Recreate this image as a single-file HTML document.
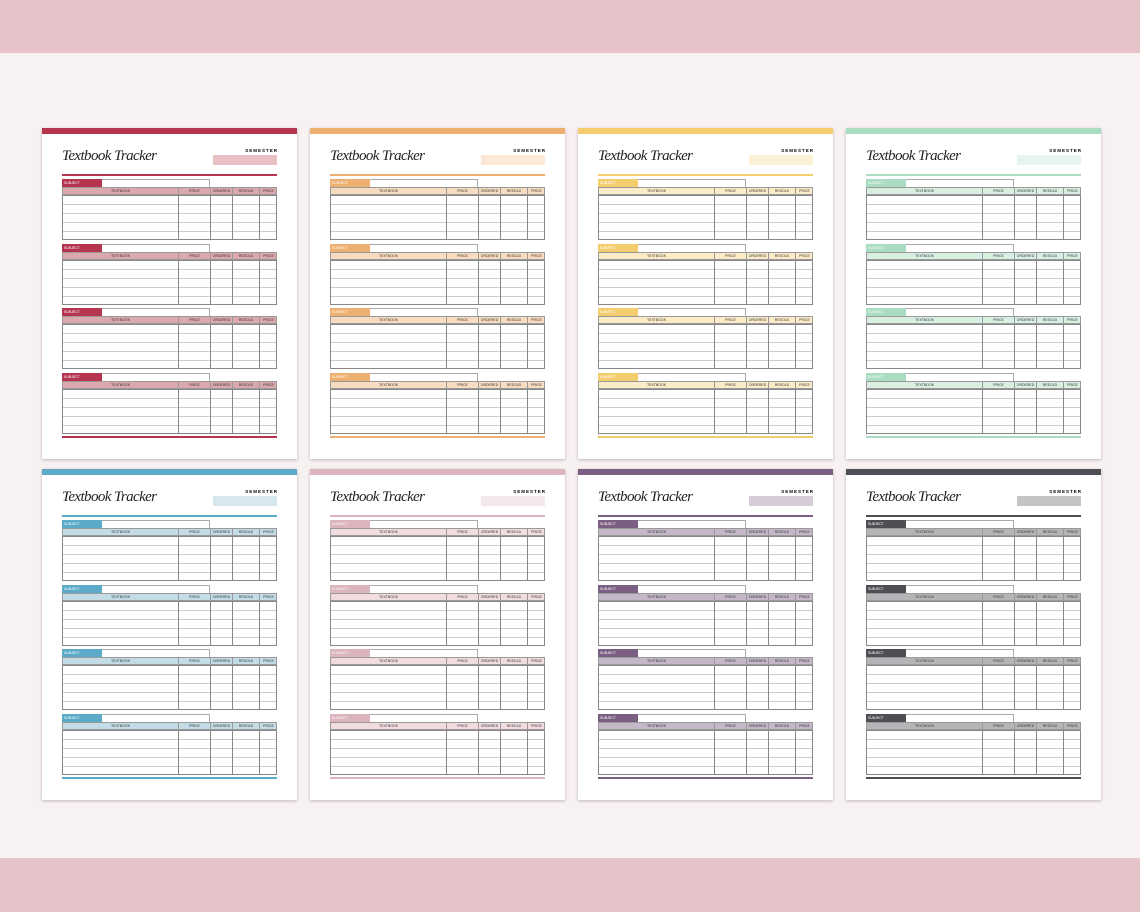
<!DOCTYPE html>
<html><head><meta charset="utf-8"><style>
body{margin:0;width:1140px;height:912px;background:#f8f1f1;position:relative;overflow:hidden;font-family:"Liberation Sans",sans-serif}
.band{position:absolute;left:0;width:1140px;background:#e5c3c8}
.page{position:absolute;width:255px;height:331px;background:#fff;box-shadow:0 1px 3px rgba(0,0,0,.25)}
.page div{position:absolute;box-sizing:border-box}
.title{font-family:"Liberation Serif",serif;font-style:italic;font-size:15px;color:#222;left:20px;top:20px;letter-spacing:-0.6px;white-space:nowrap}
.sem{font-size:4.5px;font-weight:bold;letter-spacing:1px;right:19px;top:20px}
.lbl{font-size:3.5px;color:#333;text-align:center;line-height:8px}
</style></head><body>
<div class="band" style="top:0;height:53px"></div>
<div class="band" style="top:858px;height:54px"></div>
<div id="wrap"></div>
<script>
const themes=["red","orange","yellow","green","blue","pink","purple","gray"];
const mainColors=["#b5354f","#eeb070","#f3cd6e","#a9dcc0","#5aaac8","#dcb4bd","#7a5f82","#4d4f55"];
const lightColors=["#dba9ad","#f7dcc0","#faecc6","#d9efe2","#c3dce6","#f1dde0","#c3b7c8","#b5b5b8"];
const boxColors=["#e8c0c3","#fbe9d6","#fcf0d6","#e8f5ee","#d6e7ee","#f5e8ea","#d5ccd8","#c4c4c7"];
const colX=[42,310,578,846];const rowY=[128,469];
const cols=["TEXTBOOK","PRICE","ORDERED","RESOLD","PRICE"];
const colEdges=[0,116,148,170,197,215];
const wrap=document.getElementById('wrap');
themes.forEach((t,i)=>{
 const p=document.createElement('div');p.className='page';
 
 
 p.style.left=colX[i%4]+'px';p.style.top=rowY[Math.floor(i/4)]+'px';
 const c=mainColors[i],l=lightColors[i];
 let h=`<div style="left:0;top:0;width:255px;height:6px;background:${c}"></div>
 <div class="title">Textbook Tracker</div>
 <div class="sem">SEMESTER</div>
 <div style="left:171px;top:27px;width:64px;height:10px;background:${boxColors[i]}"></div>
 <div style="left:20px;top:46px;width:215px;height:2px;background:${c}"></div>
 <div style="left:20px;top:308px;width:215px;height:2px;background:${c}"></div>`;
 for(let s=0;s<4;s++){
  const y=51+s*64.7;
  h+=`<div style="left:20px;top:${y}px;width:148px;height:9px;border:0.5px solid #aaa;border-bottom:none"></div>
  <div class="lbl" style="left:20px;top:${y}px;width:40px;height:8px;background:${c};color:#fff;text-align:left;padding-left:2px">SUBJECT</div>
  <div style="left:20px;top:${y+8}px;width:215px;height:8px;background:${l};border:0.5px solid #999"></div>`;
  cols.forEach((n,k)=>{h+=`<div class="lbl" style="left:${20+colEdges[k]}px;top:${y+8}px;width:${colEdges[k+1]-colEdges[k]}px;height:8px;border-left:0.5px solid #999">${n}</div>`;});
  h+=`<div style="left:20px;top:${y+16}px;width:215px;height:45px;border:0.7px solid #888;background:repeating-linear-gradient(#fff 0 8.3px,#999 8.3px 9px)"></div>`;
  for(let k=1;k<5;k++)h+=`<div style="left:${20+colEdges[k]}px;top:${y+16}px;width:0.7px;height:45px;background:#888"></div>`;
 }
 p.innerHTML=h;wrap.appendChild(p);
});
</script>
</body></html>
